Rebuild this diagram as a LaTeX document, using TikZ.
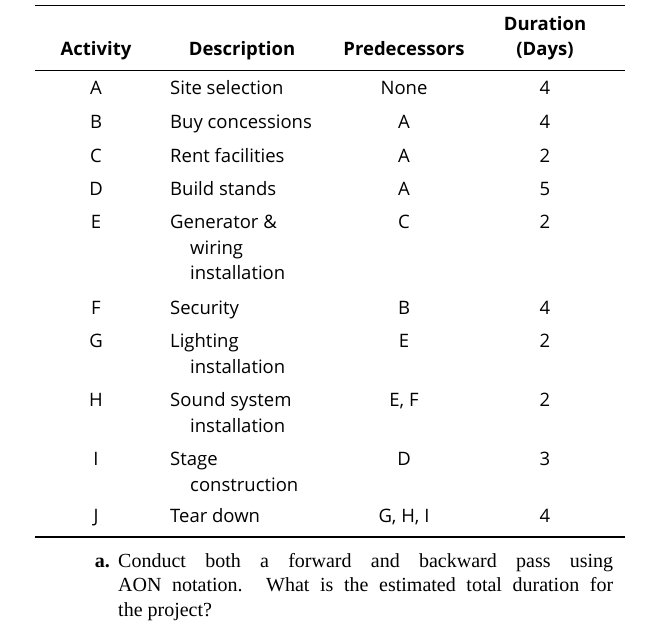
\documentclass[tikz,border=0pt]{standalone}
\usepackage{fontspec}
\setmainfont{Open Sans}
\newfontfamily\serifpart{Liberation Serif}
\begin{document}
\begin{tikzpicture}[x=1pt,y=-1pt,
  cell/.style={inner sep=0pt,anchor=base,font=\fontsize{18.5}{25}\selectfont},
  head/.style={cell,font=\fontsize{18.5}{25}\selectfont\bfseries},
  qtext/.style={inner sep=0pt,anchor=base west,font=\serifpart\fontsize{20}{24.5}\selectfont},
  rulefine/.style={line width=0.8pt},
  rulethick/.style={line width=2pt}]
\useasboundingbox (0,0) rectangle (652,637);
\coordinate (tl) at (35,5); \coordinate (tr) at (625,5);
\coordinate (ml) at (35,70); \coordinate (mr) at (625,70);
\coordinate (bl) at (35,537); \coordinate (br) at (625,537);
\draw[rulefine] (tl) -- (tr);
\draw[rulefine] (ml) -- (mr);
\draw[rulethick] (bl) -- (br);
\node[head] (h1) at (96,55) {Activity};
\node[head] (h2) at (242,55) {Description};
\node[head] (h3) at (404,55) {Predecessors};
\node[head] (h4a) at (545,30) {Duration};
\node[head] (h4b) at (545,55) {(Days)};
\foreach \n/\y/\a/\p/\d in {ra/94/A/None/4, rb/128/B/A/4, rc/162/C/A/2, rd/195/D/A/5, re/228/E/C/2, rf/314/F/B/4, rg/347/G/E/2, rh/406/H/{E, F}/2, ri/465/I/D/3, rj/522/J/{G, H, I}/4}{
  \node[cell] (\n a) at (96,\y) {\a};
  \node[cell] (\n p) at (404,\y) {\p};
  \node[cell] (\n d) at (545,\y) {\d};
}
\foreach \n/\y/\t in {da/94/Site selection, db/128/Buy concessions, dc/162/Rent facilities, dd/195/Build stands, de1/228/Generator \&, de2/254/\hspace{20pt}wiring, de3/279/\hspace{20pt}installation, df/314/Security, dg1/347/Lighting, dg2/373/\hspace{20pt}installation, dh1/406/Sound system, dh2/432/\hspace{20pt}installation, di1/465/Stage, di2/491/\hspace{20pt}construction, dj/522/Tear down}{
  \node[cell,anchor=base west] (\n) at (170,\y) {\t};
}
\node[qtext,anchor=base east,font=\serifpart\fontsize{20}{24.5}\selectfont\bfseries] (qa) at (110,567) {a.};
\node[qtext] (q1) at (118,567) {\makebox[495pt][s]{Conduct both a forward and backward pass using}};
\node[qtext] (q2) at (118,591) {\makebox[495pt][s]{AON notation. What is the estimated total duration for}};
\node[qtext] (q3) at (118,616) {the project?};
\end{tikzpicture}
\end{document}
